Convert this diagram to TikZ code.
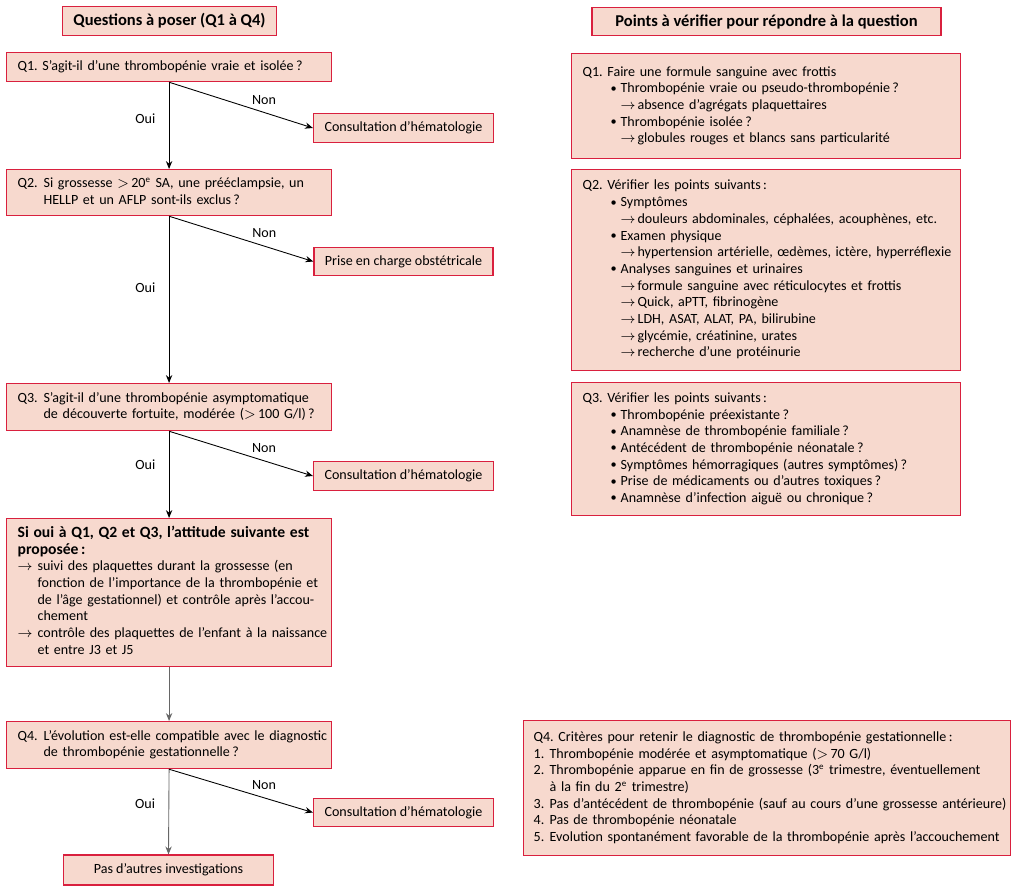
\documentclass[tikz,border=0pt]{standalone}
\usepackage{fontspec}
\setmainfont{Carlito}
\usetikzlibrary{arrows.meta}
\definecolor{boxfill}{RGB}{247,217,206}
\definecolor{boxline}{RGB}{217,32,62}
\frenchspacing
\newcommand{\lines}[1]{\begin{tabular}{@{}l@{}}#1\end{tabular}}
\newcommand{\itm}[1]{\hspace*{0.56cm}\makebox[0.2cm][l]{\raisebox{0.1ex}{\scriptsize\textbullet}}#1}
\newcommand{\res}[1]{\hspace*{0.76cm}\makebox[0.34cm][l]{$\rightarrow$}#1}
\newcommand{\num}[2]{\makebox[0.32cm][l]{#1}#2}
\newcommand{\sups}[1]{\textsuperscript{\scalebox{0.85}{#1}}}

\begin{document}
\begin{tikzpicture}[x=0.02cm, y=-0.02cm, font=\fontsize{8}{9.5}\selectfont]
    \tikzset{block/.style={rectangle, draw=boxline, fill=boxfill, line width=0.7pt, inner xsep=0.22cm, inner ysep=0pt, anchor=north west},
        title/.style={block, anchor=center, font=\fontsize{9.4}{10}\selectfont\bfseries, minimum height=0.57cm},
        leaf/.style={block, anchor=center, minimum width=3.58cm, minimum height=0.57cm},
        ask/.style={block, text width=6.06cm},
        check/.style={block, text width=7.34cm},
        link/.style={-{Stealth[length=4.5pt, width=3.6pt]}, line width=0.5pt}};
    \useasboundingbox (0,0) rectangle (1016,892);

    \node[title, minimum width=4.22cm] (hq) at (169.5,21) {Questions à poser (Q1 à Q4)};
    \node[title, minimum width=6.98cm] (hp) at (766.5,21.5) {Points à vérifier pour répondre à la question};

    \node[ask, minimum height=0.58cm] (q1) at (6,52) {\lines{Q1. S’agit-il d’une thrombopénie vraie et isolée\,?}};
    \node[ask, minimum height=0.92cm] (q2) at (6,169) {\lines{\makebox[0.52cm][l]{Q2.}Si grossesse $>$\,20\sups{e} SA, une prééclampsie, un\\
        \hspace*{0.52cm}HELLP et un AFLP sont-ils exclus\,?}};
    \node[ask, minimum height=0.94cm] (q3) at (6,383) {\lines{\makebox[0.52cm][l]{Q3.}S’agit-il d’une thrombopénie asymptomatique\\
        \hspace*{0.52cm}de découverte fortuite, modérée ($>$\,100 G/l)\,?}};
    \node[ask, minimum height=2.96cm] (att) at (6,518) {\lines{{\fontsize{8.9}{9.5}\selectfont\bfseries Si oui à Q1, Q2 et Q3, l’attitude suivante est}\\
        {\fontsize{8.9}{9.5}\selectfont\bfseries proposée\,:}\\
        \makebox[0.4cm][l]{$\rightarrow$}suivi des plaquettes durant la grossesse (en\\
        \hspace*{0.4cm}fonction de l’importance de la thrombopénie et\\
        \hspace*{0.4cm}de l’âge gestationnel) et contrôle après l’accou-\\
        \hspace*{0.4cm}chement\\
        \makebox[0.4cm][l]{$\rightarrow$}contrôle des plaquettes de l’enfant à la naissance\\
        \hspace*{0.4cm}et entre J3 et J5}};
    \node[ask, minimum height=0.94cm] (q4) at (6,721) {\lines{\makebox[0.52cm][l]{Q4.}L’évolution est-elle compatible avec le diagnostic\\
        \hspace*{0.52cm}de thrombopénie gestationnelle\,?}};

    \node[leaf] (c1) at (403.5,128) {Consultation d’hématologie};
    \node[leaf] (c2) at (403.5,261.5) {Prise en charge obstétricale};
    \node[leaf] (c3) at (403.5,476) {Consultation d’hématologie};
    \node[leaf] (c4) at (403.5,812.5) {Consultation d’hématologie};
    \node[leaf, minimum width=4.2cm, minimum height=0.6cm] (fin) at (168.5,870) {Pas d’autres investigations};

    \node[check, minimum height=2.1cm] (r1) at (571,53) {\lines{Q1. Faire une formule sanguine avec frottis\\
        \itm{Thrombopénie vraie ou pseudo-thrombopénie\,?}\\
        \res{absence d’agrégats plaquettaires}\\
        \itm{Thrombopénie isolée\,?}\\
        \res{globules rouges et blancs sans particularité}}};
    \node[check, minimum height=4.02cm] (r2) at (571,169) {\lines{Q2. Vérifier les points suivants\,:\\
        \itm{Symptômes}\\
        \res{douleurs abdominales, céphalées, acouphènes, etc.}\\
        \itm{Examen physique}\\
        \res{hypertension artérielle, œdèmes, ictère, hyperréflexie}\\
        \itm{Analyses sanguines et urinaires}\\
        \res{formule sanguine avec réticulocytes et frottis}\\
        \res{Quick, aPTT, fibrinogène}\\
        \res{LDH, ASAT, ALAT, PA, bilirubine}\\
        \res{glycémie, créatinine, urates}\\
        \res{recherche d’une protéinurie}}};
    \node[check, minimum height=2.66cm] (r3) at (571,382) {\lines{Q3. Vérifier les points suivants\,:\\
        \itm{Thrombopénie préexistante\,?}\\
        \itm{Anamnèse de thrombopénie familiale\,?}\\
        \itm{Antécédent de thrombopénie néonatale\,?}\\
        \itm{Symptômes hémorragiques (autres symptômes)\,?}\\
        \itm{Prise de médicaments ou d’autres toxiques\,?}\\
        \itm{Anamnèse d’infection aiguë ou chronique\,?}}};
    \node[block, inner xsep=0.2cm, text width=9.34cm, minimum height=2.7cm] (r4) at (523,720) {\lines{Q4. Critères pour retenir le diagnostic de thrombopénie gestationnelle\,:\\
        \num{1.}{Thrombopénie modérée et asymptomatique ($>$\,70 G/l)}\\
        \num{2.}{Thrombopénie apparue en fin de grossesse (3\sups{e} trimestre, éventuellement}\\
        \hspace*{0.32cm}à la fin du 2\sups{e} trimestre)\\
        \num{3.}{Pas d’antécédent de thrombopénie (sauf au cours d’une grossesse antérieure)}\\
        \num{4.}{Pas de thrombopénie néonatale}\\
        \num{5.}{Evolution spontanément favorable de la thrombopénie après l’accouchement}}};

    \draw[link] (q1.south) -- node[pos=0.42, left=0.15cm] {Oui} (q2.north);
    \draw[link] (q1.south) -- node[pos=0.66, above=1pt] {Non} (c1.west);
    \draw[link] (q2.south) -- node[pos=0.43, left=0.15cm] {Oui} (q3.north);
    \draw[link] (q2.south) -- node[pos=0.66, above=1pt] {Non} (c2.west);
    \draw[link] (q3.south) -- node[pos=0.39, left=0.15cm] {Oui} (att.north);
    \draw[link] (q3.south) -- node[pos=0.66, above=1pt] {Non} (c3.west);
    \draw[link, draw=black!60] (att.south) -- (q4.north);
    \draw[link, draw=black!60] (q4.south) -- node[pos=0.4, left=0.15cm] {Oui} (fin.north);
    \draw[link] (q4.south) -- node[pos=0.66, above=1pt] {Non} (c4.west);
\end{tikzpicture}
\end{document}
